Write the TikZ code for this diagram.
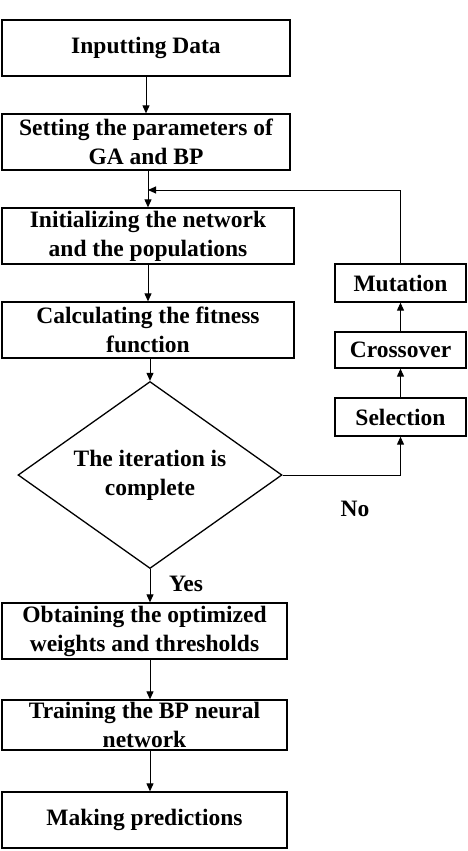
\documentclass[tikz,border=0pt]{standalone}
\usepackage{fontspec}
\setmainfont{Liberation Serif}
\usetikzlibrary{shapes.geometric,arrows.meta}
\begin{document}
\begin{tikzpicture}[x=1pt,y=-1pt,
  box/.style={draw,line width=1.3pt,rectangle,inner sep=0pt,align=center,font=\fontsize{23.5}{29}\selectfont\bfseries},
  dec/.style={draw,line width=1.3pt,diamond,inner sep=0pt},
  lbl/.style={align=center,font=\fontsize{23.5}{29}\selectfont\bfseries},
  arr/.style={line width=1pt,-{Triangle[length=8pt,width=7pt]}}]
\useasboundingbox (0,0) rectangle (468,851);
\node[box,minimum width=288,minimum height=56] (b1) at (146,48) {Inputting Data};
\node[box,minimum width=288,minimum height=56] (b2) at (146,142) {Setting the parameters of\\GA and BP};
\node[box,minimum width=292,minimum height=56] (b3) at (148,236) {Initializing the network\\and the populations};
\node[box,minimum width=292,minimum height=56] (b4) at (148,330) {Calculating the fitness\\function};
\node[dec,minimum width=264,minimum height=187] (d) at (150,475) {};
\node[lbl] (dt) at (d.center) {The iteration is\\complete};
\node[box,minimum width=131,minimum height=38] (mu) at (400.5,283) {Mutation};
\node[box,minimum width=131,minimum height=36] (cr) at (400.5,350) {Crossover};
\node[box,minimum width=131,minimum height=38] (se) at (400.5,417) {Selection};
\node[box,minimum width=285,minimum height=56] (b5) at (144.5,631) {Obtaining the optimized\\weights and thresholds};
\node[box,minimum width=285,minimum height=50] (b6) at (144.5,725) {Training the BP neural\\network};
\node[box,minimum width=285,minimum height=56] (b7) at (144.5,820) {Making predictions};
\node[lbl] (no) at (355,509) {No};
\node[lbl] (yes) at (186,584) {Yes};
\coordinate (fb) at (148,190);
\draw[arr] (b1) -- (b2);
\draw[arr] (b2.south -| fb) -- (b3.north -| fb);
\draw[arr] (b3.south -| b4) -- (b4.north);
\draw[arr] (b4.south -| d) -- (d.north);
\draw[arr] (d.south) -- (b5.north -| d);
\draw[arr] (b5.south -| d) -- (b6.north -| d);
\draw[arr] (b6.south -| d) -- (b7.north -| d);
\draw[arr] (d.east) -| (se.south);
\draw[arr] (se) -- (cr);
\draw[arr] (cr) -- (mu);
\draw[arr] (mu.north) |- (fb);
\end{tikzpicture}
\end{document}
